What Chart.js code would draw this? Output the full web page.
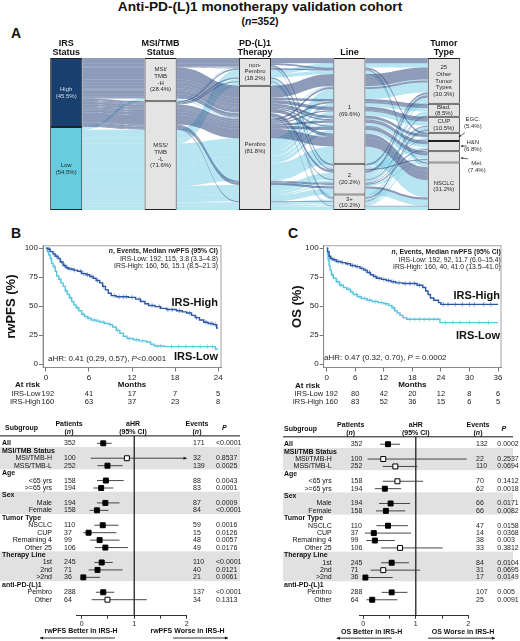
<!DOCTYPE html>
<html>
<head>
<meta charset="utf-8">
<script src="https://cdn.jsdelivr.net/npm/chart.js@4.4.0/dist/chart.umd.min.js"></script>
<style>
  body { margin: 0; background: #fff; width: 520px; height: 641px; position: relative; overflow: hidden;
         font-family: "Liberation Sans", Arial, sans-serif; color: #111; }
  .box { position: absolute; }
  #title { position: absolute; left: 0; width: 520px; top: 0; text-align: center; font-weight: bold; font-size: 13.7px; line-height: 13.7px; }
  #sub { position: absolute; left: 0; width: 520px; top: 16px; text-align: center; font-weight: bold; font-size: 10.5px; line-height: 10.5px; }
  .panel { position: absolute; font-weight: bold; font-size: 14px; line-height: 14px; }
</style>
</head>
<body>
<div id="title">Anti-PD-(L)1 monotherapy validation cohort</div>
<div id="sub">(<i>n</i>=352)</div>
<div class="panel" style="left:11px;top:26px">A</div>
<div class="panel" style="left:11px;top:226px">B</div>
<div class="panel" style="left:288px;top:226px">C</div>

<div class="box" style="left:0;top:36px;width:520px;height:180px"><canvas id="sankey"></canvas></div>
<div class="box" style="left:0;top:240px;width:260px;height:170px"><canvas id="kmPfs"></canvas></div>
<div class="box" style="left:260px;top:240px;width:260px;height:170px"><canvas id="kmOs"></canvas></div>
<div class="box" style="left:0;top:415px;width:260px;height:226px"><canvas id="forestPfs"></canvas></div>
<div class="box" style="left:260px;top:416px;width:260px;height:225px"><canvas id="forestOs"></canvas></div>

<script>
const FONT = '"Liberation Sans", Arial, sans-serif';
Chart.defaults.font.family = FONT;
Chart.defaults.color = '#222';

// ============ PANEL A DATA (alluvial) ============

const axisTitles = [['IRS', 'Status'], ['MSI/TMB', 'Status'], ['PD-(L)1', 'Therapy'], ['Line'], ['Tumor', 'Type']];
const irsNodes = ['High', 'Low'];
const msiNodes = ['MSI/TMB-H', 'MSS/TMB-L'];
const pdNodes = ['non-Pembro', 'Pembro'];
const lineNodes = ['1', '2', '3+'];
const tumorNodes = ['25 Other', 'Blad.', 'CUP', 'EGC.', 'H&N', 'Mel.', 'NSCLC'];

const nodeLabels = [
  [['High', '(45.5%)'], ['Low', '(54.5%)']],
  [['MSI/', 'TMB', '-H', '(28.4%)'], ['MSS/', 'TMB', '-L', '(71.6%)']],
  [['non-', 'Pembro', '(18.2%)'], ['Pembro', '(81.8%)']],
  [['1', '(69.6%)'], ['2', '(20.2%)'], ['3+', '(10.2%)']],
  [['25', 'Other', 'Tumor', 'Types', '(30.3%)'], ['Blad.', '(8.5%)'], ['CUP', '(10.5%)'], [], [], [], ['NSCLC', '(31.2%)']]
];
const sideLabels = [null, null, null, ['EGC.', '(5.4%)'], ['H&N', '(6.8%)'], ['Mel.', '(7.4%)'], null];

// strands: [irs, msi/tmb, pd-(l)1, line, tumor, patients]
const strands = [
  [0,0,1,0,0,28],[0,0,0,0,0,12],[0,0,1,1,0,6],[0,0,0,1,0,4],[0,0,1,0,3,6],[0,0,0,0,3,4],[0,0,1,0,2,8],
  [0,0,1,1,2,2],[0,0,0,2,2,2],[0,0,1,0,1,6],[0,0,1,0,6,8],[0,0,1,2,6,2],[0,0,1,0,4,3],[0,0,1,0,5,3],
  [0,1,1,0,6,22],[0,1,1,1,6,5],[0,1,0,0,6,3],[0,1,1,0,5,7],[0,1,0,1,5,3],[0,1,1,0,4,5],[0,1,1,1,4,3],
  [0,1,1,0,1,4],[0,1,1,2,1,2],[0,1,1,0,2,3],[0,1,0,2,2,2],[0,1,1,0,0,5],[0,1,1,1,3,2],
  [1,0,1,0,0,2],[1,0,0,1,0,2],[1,0,1,2,3,2],
  [1,1,1,0,6,40],[1,1,1,1,6,14],[1,1,1,2,6,8],[1,1,0,0,6,8],[1,1,1,0,0,23],[1,1,0,0,0,10],[1,1,1,1,0,9],
  [1,1,1,2,0,3],[1,1,0,2,0,2],[1,1,1,0,1,8],[1,1,1,1,1,6],[1,1,0,2,1,4],[1,1,1,0,2,10],[1,1,1,1,2,6],
  [1,1,1,2,2,4],[1,1,0,1,3,3],[1,1,1,0,3,2],[1,1,1,0,4,7],[1,1,0,1,4,3],[1,1,1,2,4,3],[1,1,1,0,5,8],
  [1,1,1,1,5,3],[1,1,0,2,5,2]
];

// ============ PANEL B / C DATA (Kaplan-Meier) ============

const pfsTimeHigh = [0,0.3,0.6,1.0,1.3,1.7,2.0,2.4,2.8,3.2,3.8,4.4,5.0,5.6,6.1,6.6,7.0,7.5,7.9,8.3,8.7,9.1,9.8,11.5,12.5,13.2,13.8,14.3,15.2,16.0,16.8,18.2,19.0,19.6,20.3,20.8,21.4,22.0,22.6,23.3,23.8,24];
const pfsSurvHigh = [100,99,97,95,93,91,88,85,83,82,81,80,78,77,75.5,74,72,70,67,64,61,59,58,57.5,56,54,52,50.5,49.5,48,47,46,45,44,42,40,38,36,35,34,31,31];
const pfsTimeLow = [0,0.2,0.4,0.6,0.8,1.0,1.3,1.5,1.8,2.1,2.4,2.7,3.0,3.3,3.6,3.9,4.2,4.6,5.0,5.4,5.8,6.3,7.0,7.6,8.2,8.8,9.3,9.8,10.3,10.8,11.3,12.2,13.0,14.0,14.6,15.1,16.5,23.6,24];
const pfsSurvLow = [100,97,94,91,87,84,80,76,73,70,67,63,60,57,54,51,48.5,46,43,41,39.5,38,37,36,35,34,32,29,26.5,24,22,21,20,19,17,15.5,15,13,13];
const pfsCensHigh = [0.5,1.1,1.5,2.2,2.6,3.0,3.5,4.0,4.8,5.3,5.8,6.4,7.2,8.0,9.5,10.2,10.8,11.2,12.0,13.0,14.8,15.8,17.0,17.6,18.6,20.0,21.0,22.3,23.0,23.6];
const pfsCensLow = [0.3,0.7,1.2,2.0,2.9,3.5,4.4,5.2,6.0,6.7,7.3,8.0,9.0,10.0,11.6,12.6,13.5,15.5,16.0,17.5,18.5,19.5,20.5,21.5,22.5,23.2];
const pfsRiskTimes = [0, 6, 12, 18, 24];
const pfsRiskLow = [192, 41, 17, 7, 5];
const pfsRiskHigh = [160, 63, 37, 23, 8];

const osTimeHigh = [0,0.2,0.5,0.8,1.3,2.0,3.0,4.0,5.0,6.0,7.0,7.8,8.5,9.2,9.8,10.5,11.5,12.5,13.5,14.5,16.0,19.0,20.2,20.8,21.3,21.8,22.5,23.5,24.0,36];
const osSurvHigh = [100,97,93,91,90,88.5,87.5,86.5,85,84,82.5,81,79,77,75.5,74,73,72,71,70,69.5,68,66,63,60,57,55,53,51.5,51.5];
const osTimeLow = [0,0.15,0.3,0.5,0.7,1.0,1.4,2.0,2.7,3.5,4.2,5.0,5.6,6.5,7.3,8.5,9.5,10.8,12.0,13.0,13.7,14.3,14.8,15.4,16.0,16.8,23.8,36];
const osSurvLow = [100,95,90,85,81,77,74,71,68,66,64.5,62,60,58,56.5,55,54,53,52,50.5,48.5,46,44,42,40,38.6,35.7,35.7];
const osCensHigh = [0.6,1.0,1.6,2.4,3.3,4.4,5.4,6.4,7.4,8.2,9.0,10.2,11.0,12.0,13.0,14.0,15.2,16.5,17.5,18.5,19.5,24.5,25.5,27,28.5,30,31,33,34.5];
const osCensLow = [0.4,1.2,2.3,3.0,4.6,5.3,6.2,7.0,8.0,9.0,10.2,11.5,12.5,14.0,17.5,18.5,19.5,20.5,21.5,22.5,23.2,25,26.5,28,30,32,34];
const osRiskTimes = [0, 6, 12, 18, 24, 30, 36];
const osRiskLow = [192, 80, 42, 20, 12, 8, 6];
const osRiskHigh = [160, 83, 52, 36, 15, 6, 5];

// ============ FOREST DATA ============

const rowLabels = ['All','MSI/TMB Status','MSI/TMB-H','MSS/TMB-L','Age','<65 yrs','>=65 yrs','Sex','Male','Female',
  'Tumor Type','NSCLC','CUP','Remaining 4','Other 25','Therapy Line','1st','2nd','>2nd','anti-PD-(L)1','Pembro','Other'];
const rowBold = [1,1,0,0,1,0,0,1,0,0,1,0,0,0,0,1,0,0,0,1,0,0];
const shadedRows = [[1, 3], [7, 9], [15, 18]];
const patients = [352,null,100,252,null,158,194,null,194,158,null,110,37,99,106,null,245,71,36,null,288,64];

const pfsHR = [0.41,null,0.86,0.49,null,0.46,0.37,null,0.45,0.29,null,0.40,0.13,0.34,0.45,null,0.38,0.30,0.03,null,0.41,0.49];
const pfsLo = [0.29,null,0.17,0.30,null,0.29,0.22,null,0.29,0.15,null,0.24,0.03,0.16,0.25,null,0.24,0.13,0.00,null,0.27,0.19];
const pfsHi = [0.57,null,4.30,0.78,null,0.80,0.60,null,0.72,0.51,null,0.70,0.66,0.72,0.88,null,0.59,0.78,0.35,null,0.62,1.24];
const pfsEvents = [171,null,32,139,null,88,83,null,87,84,null,59,15,48,49,null,110,40,21,null,137,34];
const pfsP = ['<0.0001',null,'0.8537','0.0025',null,'0.0043','0.0001',null,'0.0009','<0.0001',null,'0.0016','0.0126','0.0057','0.0176',null,'<0.0001','0.0121','0.0061',null,'<0.0001','0.1313'];

const osHR = [0.47,null,0.38,0.61,null,0.65,0.41,null,0.52,0.43,null,0.47,0.20,0.22,0.70,null,0.54,0.38,0.04,null,0.54,0.17];
const osLo = [0.32,null,0.08,0.37,null,0.37,0.22,null,0.30,0.24,null,0.25,0.03,0.06,0.34,null,0.34,0.14,0.00,null,0.35,0.06];
const osHi = [0.70,null,1.97,1.03,null,1.14,0.72,null,0.89,0.80,null,0.85,0.91,0.60,1.51,null,0.87,1.08,0.56,null,0.84,0.65];
const osEvents = [132,null,22,110,null,70,62,null,66,66,null,47,14,38,33,null,84,31,17,null,107,25];
const osP = ['0.0002',null,'0.2537','0.0694',null,'0.1412','0.0018',null,'0.0171','0.0082',null,'0.0158','0.0368','0.003','0.3812',null,'0.0104','0.0695','0.0149',null,'0.005','0.0091'];

// ============ HELPERS ============

function f(size, style) { return (style ? style + ' ' : '') + size + 'px ' + FONT; }

function rich(ctx, parts, x, y, align) {
  let w = 0;
  parts.forEach(p => { ctx.font = p[1]; w += ctx.measureText(p[0]).width; });
  let cx = align === 'right' ? x - w : (align === 'center' ? x - w / 2 : x);
  ctx.textAlign = 'left';
  parts.forEach(p => { ctx.font = p[1]; ctx.fillText(p[0], cx, y); cx += ctx.measureText(p[0]).width; });
}

function arrow(ctx, x0, y0, x1, y1, size) {
  ctx.beginPath(); ctx.moveTo(x0, y0); ctx.lineTo(x1, y1); ctx.stroke();
  const a = Math.atan2(y1 - y0, x1 - x0);
  ctx.beginPath();
  ctx.moveTo(x1, y1);
  ctx.lineTo(x1 - size * Math.cos(a - 0.45), y1 - size * Math.sin(a - 0.45));
  ctx.lineTo(x1 - size * Math.cos(a + 0.45), y1 - size * Math.sin(a + 0.45));
  ctx.closePath(); ctx.fill();
}

function stepValue(times, surv, t) {
  let v = surv[0];
  for (let i = 0; i < times.length; i++) { if (times[i] <= t) v = surv[i]; else break; }
  return v;
}

// ============ PANEL A: ALLUVIAL ============

const axisNodes = [irsNodes, msiNodes, pdNodes, lineNodes, tumorNodes];
const nodeCounts = axisNodes.map((nodes, k) =>
  nodes.map((_, j) => strands.filter(s => s[k] === j).reduce((t, s) => t + s[5], 0)));
const maxNodes = Math.max(...axisNodes.map(n => n.length));
const irsColors = ['#183f6e', '#66cce0'];
const flowColors = ['rgba(50,75,130,0.55)', 'rgba(112,204,228,0.5)'];

// strand offsets at each axis (zigzag ordering like ggalluvial)
function strandOffsets() {
  const n = axisNodes.length;
  return axisNodes.map((_, k) => {
    const keys = [k];
    for (let d = 1; d < n; d++) { if (k - d >= 0) keys.push(k - d); if (k + d < n) keys.push(k + d); }
    const idx = strands.map((s, i) => i).sort((a, b) => {
      for (const o of keys) { const d = strands[a][o] - strands[b][o]; if (d) return d; }
      return 0;
    });
    const pos = [];
    let acc = 0;
    idx.forEach(i => { pos[i] = acc; acc += strands[i][5]; });
    return pos;
  });
}
const offsets = strandOffsets();

const alluvialPlugin = {
  id: 'alluvial',
  beforeDatasetsDraw(chart) {
    const { ctx, scales: { y } } = chart;
    const bars = chart.getDatasetMeta(0).data;
    ctx.save();
    [1, 0].forEach(irs => {
      ctx.fillStyle = flowColors[irs];
      strands.forEach((s, i) => {
        if (s[0] !== irs) return;
        for (let k = 0; k < axisNodes.length - 1; k++) {
          const x0 = bars[k].x + bars[k].width / 2, x1 = bars[k + 1].x - bars[k + 1].width / 2;
          const xm = (x0 + x1) / 2;
          const a0 = y.getPixelForValue(offsets[k][i]), a1 = y.getPixelForValue(offsets[k][i] + s[5]);
          const b0 = y.getPixelForValue(offsets[k + 1][i]), b1 = y.getPixelForValue(offsets[k + 1][i] + s[5]);
          ctx.beginPath();
          ctx.moveTo(x0, a0);
          ctx.bezierCurveTo(xm, a0, xm, b0, x1, b0);
          ctx.lineTo(x1, b1);
          ctx.bezierCurveTo(xm, b1, xm, a1, x0, a1);
          ctx.closePath();
          ctx.fill();
        }
      });
    });
    ctx.restore();
  },
  afterDatasetsDraw(chart) {
    const { ctx } = chart;
    ctx.save();
    ctx.textAlign = 'center';
    ctx.textBaseline = 'middle';
    ctx.font = f(6);
    const lh = 6.6;
    for (let j = 0; j < maxNodes; j++) {
      chart.getDatasetMeta(j).data.forEach((bar, k) => {
        const lines = (nodeLabels[k] || [])[j];
        if (!lines || !lines.length) return;
        const cy = (bar.y + bar.base) / 2;
        ctx.fillStyle = (k === 0 && j === 0) ? '#d5deea' : '#2a2a2a';
        lines.forEach((t, i) => ctx.fillText(t, bar.x, cy + (i - (lines.length - 1) / 2) * lh));
      });
    }
    // side labels for the small tumor nodes
    const last = axisNodes.length - 1;
    const side = { 3: { lx: 13, ly: -17, a: [5, -4, -1, 0] }, 4: { lx: 13, ly: -3.5, a: [7, 0, 1, 0] }, 5: { lx: 17, ly: 6.5, a: [8, 2, 1, 1] } };
    ctx.fillStyle = '#2a2a2a';
    ctx.strokeStyle = '#222';
    ctx.lineWidth = 0.7;
    sideLabels.forEach((lines, j) => {
      if (!lines) return;
      const bar = chart.getDatasetMeta(j).data[last];
      const r = bar.x + bar.width / 2, cy = (bar.y + bar.base) / 2, o = side[j];
      lines.forEach((t, i) => ctx.fillText(t, r + o.lx, cy + o.ly + i * lh));
      arrow(ctx, r + o.a[0], cy + o.a[1], r + o.a[2], cy + o.a[3], 2.5);
    });
    ctx.restore();
  }
};

const alluvialDatasets = [];
for (let j = 0; j < maxNodes; j++) {
  alluvialDatasets.push({
    data: axisNodes.map((nodes, k) => j < nodes.length ? nodeCounts[k][j] : null),
    backgroundColor: axisNodes.map((nodes, k) => k === 0 ? irsColors[j] : '#e4e4e4'),
    borderColor: '#222',
    borderWidth: 1,
    borderSkipped: false,
    barPercentage: 0.34,
    categoryPercentage: 1
  });
}

new Chart(document.getElementById('sankey'), {
  type: 'bar',
  data: { labels: axisTitles, datasets: alluvialDatasets },
  options: {
    animation: false, responsive: true, maintainAspectRatio: false, events: [],
    layout: { padding: { left: 19, right: 29, top: 0, bottom: 6 } },
    plugins: { legend: { display: false }, tooltip: { enabled: false } },
    scales: {
      x: {
        stacked: true, position: 'top',
        grid: { display: false, drawTicks: false }, border: { display: false },
        ticks: { font: { size: 9, weight: 'bold', lineHeight: 1.05 }, color: '#111', padding: 0.5, maxRotation: 0, autoSkip: false },
        afterFit: s => { s.height = 22; }
      },
      y: { stacked: true, min: 0, max: 352, reverse: true, display: false }
    }
  },
  plugins: [alluvialPlugin]
});

// ============ PANELS B & C: KAPLAN-MEIER ============

const kmPlugin = {
  id: 'km',
  afterDraw(chart, args, o) {
    const { ctx, chartArea: a, scales: { x } } = chart;
    ctx.save();
    ctx.strokeStyle = '#8a8a8a';
    ctx.lineWidth = 0.8;
    ctx.strokeRect(a.left, a.top, a.right - a.left, a.bottom - a.top);
    ctx.textBaseline = 'middle';
    ctx.fillStyle = '#222';
    rich(ctx, [['n', f(6.8, 'italic bold')], [', Events, Median rwPFS (95% CI)', f(6.8, 'bold')]], o.statsX, o.statsY[0], 'right');
    rich(ctx, [[o.statsLow, f(6.8)]], o.statsX, o.statsY[1], 'right');
    rich(ctx, [[o.statsHigh, f(6.8)]], o.statsX, o.statsY[2], 'right');
    rich(ctx, [[o.hrText, f(8)], ['P', f(8, 'italic')], [o.pText, f(8)]], o.hrX, o.hrY, 'left');
    ctx.fillStyle = '#111';
    rich(ctx, [['IRS-High', f(11, 'bold')]], o.labelX, o.highY, 'right');
    rich(ctx, [['IRS-Low', f(11, 'bold')]], o.labelX, o.lowY, 'right');
    rich(ctx, [['At risk', f(8, 'bold')]], o.atRiskX, o.atRiskY, 'left');
    ctx.fillStyle = '#222';
    const x0 = x.getPixelForValue(0);
    rich(ctx, [['IRS-Low', f(7.5)]], x0 - o.rowGap, o.rowY[0], 'right');
    rich(ctx, [['IRS-High', f(7.5)]], x0 - o.rowGap, o.rowY[1], 'right');
    ctx.font = f(7.5);
    ctx.textAlign = 'center';
    o.riskTimes.forEach((t, i) => {
      const px = x.getPixelForValue(t) + (i === 0 ? o.firstShift : 0);
      ctx.fillText(String(o.riskLow[i]), px, o.rowY[0]);
      ctx.fillText(String(o.riskHigh[i]), px, o.rowY[1]);
    });
    ctx.restore();
  }
};

function kmChart(id, c) {
  const curve = (T, S) => T.map((t, i) => ({ x: t, y: S[i] }));
  const cens = (T, S, C) => C.map(t => ({ x: t, y: stepValue(T, S, t) }));
  const tickMarks = { drawOnChartArea: false, tickLength: 4, color: '#777' };
  return new Chart(document.getElementById(id), {
    type: 'scatter',
    data: {
      datasets: [
        { data: curve(c.tHigh, c.sHigh), showLine: true, stepped: true, borderColor: '#2a56a3', borderWidth: 1.4, pointRadius: 0 },
        { data: curve(c.tLow, c.sLow), showLine: true, stepped: true, borderColor: '#58c4de', borderWidth: 1.4, pointRadius: 0 },
        { data: cens(c.tHigh, c.sHigh, c.cHigh), pointStyle: 'line', rotation: 90, pointRadius: 2.3,
          pointBorderColor: '#86a3d6', pointBorderWidth: 1 },
        { data: cens(c.tLow, c.sLow, c.cLow), pointStyle: 'line', rotation: 90, pointRadius: 2.3,
          pointBorderColor: '#a2dcea', pointBorderWidth: 1 }
      ]
    },
    options: {
      animation: false, responsive: true, maintainAspectRatio: false, events: [],
      layout: { padding: { left: c.padL, right: c.padR, top: 5.7, bottom: 0 } },
      plugins: { legend: { display: false }, tooltip: { enabled: false }, km: c.text },
      scales: {
        x: {
          type: 'linear', min: c.xMin, max: c.xMax,
          afterBuildTicks: s => { s.ticks = c.riskTimes.map(v => ({ value: v })); },
          afterFit: s => { s.height = 42.5; },
          ticks: { font: { size: 8 }, color: '#222', padding: 1, maxRotation: 0, autoSkip: false },
          grid: tickMarks, border: { color: '#8a8a8a' },
          title: { display: true, text: 'Months', font: { size: 8, weight: 'bold' }, color: '#111', padding: { top: 0, bottom: 20 } }
        },
        y: {
          min: -3, max: 102,
          afterBuildTicks: s => { s.ticks = [0, 25, 50, 75, 100].map(v => ({ value: v })); },
          afterFit: s => { s.width = c.yW; },
          ticks: { font: { size: 8 }, color: '#222', padding: 1 },
          grid: tickMarks, border: { color: '#8a8a8a' },
          title: { display: true, text: c.yTitle, font: { size: 13, weight: 'bold' }, color: '#111', padding: { top: 4, bottom: 0 } }
        }
      }
    },
    plugins: [kmPlugin]
  });
}

kmChart('kmPfs', {
  tHigh: pfsTimeHigh, sHigh: pfsSurvHigh, tLow: pfsTimeLow, sLow: pfsSurvLow,
  cHigh: pfsCensHigh, cLow: pfsCensLow, riskTimes: pfsRiskTimes,
  xMin: -0.4, xMax: 24.4, padL: 0, yW: 43, padR: 39, yTitle: 'rwPFS (%)',
  text: {
    statsX: 218, statsY: [11, 19, 26.5],
    statsLow: 'IRS-Low: 192, 115, 3.8 (3.3\u20134.8)', statsHigh: 'IRS-High: 160, 56, 15.1 (8.5\u201321.3)',
    hrText: 'aHR: 0.41 (0.29, 0.57), ', pText: '<0.0001', hrX: 48, hrY: 118.7,
    labelX: 218, highY: 62.7, lowY: 116.7,
    atRiskX: 15, atRiskY: 145, rowGap: 5.5, firstShift: 2, rowY: [154.3, 161.5],
    riskTimes: pfsRiskTimes, riskLow: pfsRiskLow, riskHigh: pfsRiskHigh
  }
});

kmChart('kmOs', {
  tHigh: osTimeHigh, sHigh: osSurvHigh, tLow: osTimeLow, sLow: osSurvLow,
  cHigh: osCensHigh, cLow: osCensLow, riskTimes: osRiskTimes,
  xMin: -0.63, xMax: 36.63, padL: 26, yW: 37.7, padR: 19, yTitle: 'OS (%)',
  text: {
    statsX: 240.7, statsY: [12, 20, 27.5],
    statsLow: 'IRS-Low: 192, 92, 11.7 (6.0\u201315.4)', statsHigh: 'IRS-High: 160, 40, 41.0 (13.5\u201341.0)',
    hrText: 'aHR: 0.47 (0.32, 0.70), ', pText: ' = 0.0002', hrX: 64, hrY: 117.3,
    labelX: 240, highY: 56, lowY: 96,
    atRiskX: 35, atRiskY: 146, rowGap: 3.5, firstShift: 5, rowY: [154.3, 161.5],
    riskTimes: osRiskTimes, riskLow: osRiskLow, riskHigh: osRiskHigh
  }
});

// ============ FOREST PLOTS ============

const forestPlugin = {
  id: 'forest',
  beforeDatasetsDraw(chart, args, o) {
    const { ctx, chartArea: a, scales: { x, y } } = chart;
    ctx.save();
    ctx.fillStyle = '#e1e1e1';
    shadedRows.forEach(([r0, r1]) => {
      const t = y.getPixelForValue(r0 - 0.5), b = y.getPixelForValue(r1 + 0.5);
      ctx.fillRect(o.bandL, t, o.bandR - o.bandL, b - t);
    });
    const hy = y.getPixelForValue(-1);
    ctx.strokeStyle = '#111';
    ctx.lineWidth = 1;
    ctx.beginPath(); ctx.moveTo(o.bandL, hy); ctx.lineTo(o.bandR, hy); ctx.stroke();
    const x1 = x.getPixelForValue(1);
    ctx.lineWidth = 1.2;
    ctx.beginPath(); ctx.moveTo(x1, hy); ctx.lineTo(x1, a.bottom); ctx.stroke();
    // confidence intervals
    ctx.strokeStyle = '#333';
    ctx.fillStyle = '#111';
    ctx.lineWidth = 0.9;
    o.lo.forEach((lo, i) => {
      if (lo == null) return;
      const hi = o.hi[i], py = y.getPixelForValue(i);
      const xa = x.getPixelForValue(Math.max(lo, x.min)), xb = x.getPixelForValue(Math.min(hi, x.max));
      if (hi > x.max) {
        arrow(ctx, xa, py, xb, py, 3.5);
      } else {
        ctx.beginPath(); ctx.moveTo(xa, py); ctx.lineTo(xb, py); ctx.stroke();
      }
    });
    ctx.restore();
  },
  afterDraw(chart, args, o) {
    const { ctx, scales: { y } } = chart;
    ctx.save();
    ctx.textBaseline = 'middle';
    ctx.fillStyle = '#111';
    // header
    const h1 = y.getPixelForValue(-2.6), h2 = y.getPixelForValue(-1.5), hm = y.getPixelForValue(-2.05);
    rich(ctx, [['Subgroup', f(7, 'bold')]], o.subgroupX, hm, 'left');
    rich(ctx, [['Patients', f(7, 'bold')]], o.patientsHdr, h1, 'center');
    rich(ctx, [['(', f(7, 'bold')], ['n', f(7, 'italic bold')], [')', f(7, 'bold')]], o.patientsHdr, h2, 'center');
    rich(ctx, [['aHR', f(7, 'bold')]], o.hrHdr, h1, 'center');
    rich(ctx, [['(95% CI)', f(7, 'bold')]], o.hrHdr, h2, 'center');
    rich(ctx, [['Events', f(7, 'bold')]], o.eventsHdr, h1, 'center');
    rich(ctx, [['(', f(7, 'bold')], ['n', f(7, 'italic bold')], [')', f(7, 'bold')]], o.eventsHdr, h2, 'center');
    rich(ctx, [['P', f(7, 'italic bold')]], o.pHdr, hm, 'left');
    // rows
    rowLabels.forEach((lab, i) => {
      const py = y.getPixelForValue(i);
      ctx.fillStyle = '#111';
      if (rowBold[i]) rich(ctx, [[lab, f(7, 'bold')]], o.labelX, py, 'left');
      else rich(ctx, [[lab, f(7)]], o.itemRight, py, 'right');
      ctx.fillStyle = '#222';
      if (patients[i] != null) rich(ctx, [[String(patients[i]), f(7)]], o.patientsX, py, 'left');
      if (o.events[i] != null) rich(ctx, [[String(o.events[i]), f(7)]], o.eventsX, py, 'left');
      if (o.p[i] != null) rich(ctx, [[o.p[i], f(7)]], o.pX, py, 'left');
    });
    // direction labels
    ctx.fillStyle = '#111';
    rich(ctx, [[o.betterText, f(7, 'bold')]], o.betterX, o.textY, 'center');
    rich(ctx, [[o.worseText, f(7, 'bold')]], o.worseX, o.textY, 'center');
    ctx.strokeStyle = '#777';
    ctx.lineWidth = 1.5;
    arrow(ctx, o.betterArrow[0], o.arrowY, o.betterArrow[1], o.arrowY, 3.5);
    arrow(ctx, o.worseArrow[0], o.arrowY, o.worseArrow[1], o.arrowY, 3.5);
    ctx.restore();
  }
};

function forestChart(id, hr, lo, hi, pVals, c) {
  const pts = [];
  hr.forEach((v, i) => { if (v != null) pts.push({ x: v, y: i }); });
  const open = [];
  hr.forEach((v, i) => { if (v != null) open.push(parseFloat(pVals[i].replace('<', '')) > 0.05); });
  return new Chart(document.getElementById(id), {
    type: 'scatter',
    data: {
      datasets: [{
        data: pts, pointStyle: 'rect', pointRadius: 3.5,
        pointBackgroundColor: open.map(o => o ? '#fff' : '#000'),
        pointBorderColor: '#000', pointBorderWidth: 1
      }]
    },
    options: {
      animation: false, responsive: true, maintainAspectRatio: false, events: [],
      layout: { padding: { left: c.padL, right: c.padR, top: 6, bottom: 0 } },
      plugins: { legend: { display: false }, tooltip: { enabled: false }, forest: c },
      scales: {
        x: {
          type: 'linear', min: c.xMin, max: 2,
          afterBuildTicks: s => { s.ticks = [0, 0.5, 1, 1.5, 2].map(v => ({ value: v })); },
          afterFit: s => { s.height = 25.3; },
          ticks: { font: { size: 7 }, color: '#222', padding: 1, maxRotation: 0, autoSkip: false,
                   callback: v => Number.isInteger(v) ? String(v) : '' },
          grid: { drawOnChartArea: false, tickLength: 3, color: '#333' },
          border: { color: '#333' }
        },
        y: { type: 'linear', min: -3, max: 23.15, reverse: true, display: false }
      }
    },
    plugins: [forestPlugin]
  });
}

forestChart('forestPfs', pfsHR, pfsLo, pfsHi, pfsP, {
  lo: pfsLo, hi: pfsHi, events: pfsEvents, p: pfsP,
  xMin: -0.1, padL: 76.5, padR: 73.3,
  subgroupX: 5, labelX: 2, itemRight: 52, patientsX: 64, patientsHdr: 69, hrHdr: 133,
  eventsX: 193, eventsHdr: 197, pX: 216, pHdr: 222, bandL: 0, bandR: 240,
  betterText: 'rwPFS Better in IRS-H', worseText: 'rwPFS Worse in IRS-H',
  betterX: 81, worseX: 187.5, betterArrow: [115, 40], worseArrow: [173, 228], textY: 216, arrowY: 223
});

forestChart('forestOs', osHR, osLo, osHi, osP, {
  lo: osLo, hi: osHi, events: osEvents, p: osP,
  xMin: -0.08, padL: 99.1, padR: 51.7,
  subgroupX: 24, labelX: 24, itemRight: 71.7, patientsX: 90.7, patientsHdr: 90.7, hrHdr: 155.8,
  eventsX: 216, eventsHdr: 218, pX: 237.3, pHdr: 241.5, bandL: 23, bandR: 253,
  betterText: 'OS Better in IRS-H', worseText: 'OS Worse in IRS-H',
  betterX: 111.7, worseX: 203, betterArrow: [131.7, 76.7], worseArrow: [168, 235], textY: 216, arrowY: 222.3
});
</script>
</body>
</html>
